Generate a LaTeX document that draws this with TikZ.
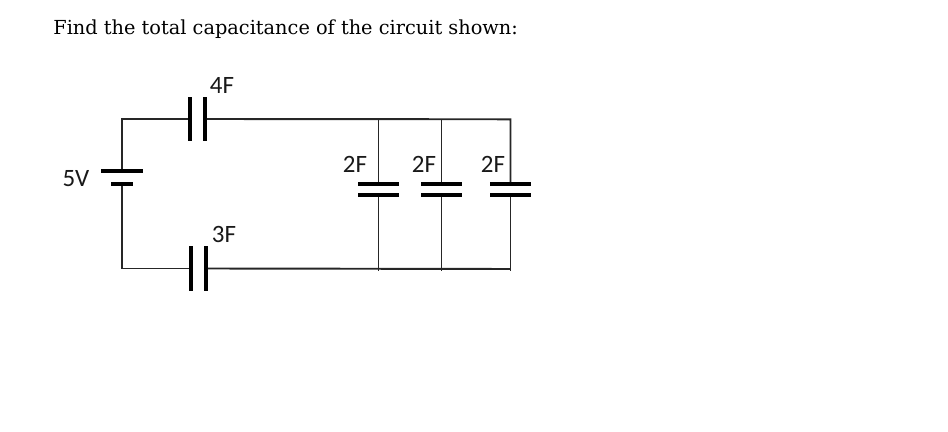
\documentclass[tikz,border=0pt]{standalone}
\usepackage{fontspec}
\usetikzlibrary{positioning}
\newfontfamily\titlefont{DejaVu Serif}
\newfontfamily\labelfont{Carlito}
\tikzset{
    wire/.style={line width=1.1pt, color=black!85},
    hplate/.style={rectangle, fill=black, inner sep=0pt, outer sep=0pt, minimum width=0.84cm, minimum height=0.07cm},
    vplate/.style={rectangle, fill=black, inner sep=0pt, outer sep=0pt, minimum width=0.07cm, minimum height=0.9cm},
    shortplate/.style={hplate, minimum width=0.44cm},
    val/.style={font=\labelfont\fontsize{14.2}{17}\selectfont, inner sep=0pt, color=black!90}
}

\begin{document}
\begin{tikzpicture}[x=0.02cm, y=-0.02cm]
    \useasboundingbox (0,0) rectangle (948,432);

    \node[anchor=west, inner sep=0pt, font=\titlefont\fontsize{11}{13}\selectfont] (title) at (53,29.5) {Find the total capacitance of the circuit shown:};

    \node[hplate] (batp) at (122,171) {};
    \node[shortplate] (batn) at (122,184) {};
    \node[val] (batval) at (76,179) {5V};

    \node[vplate] (cfourl) at (190,119) {};
    \node[vplate] (cfourr) at (205,119) {};
    \node[val] (cfourval) at (222,85) {4F};

    \node[vplate] (cthreel) at (191,268.5) {};
    \node[vplate] (cthreer) at (206,268.5) {};
    \node[val] (cthreeval) at (224,234) {3F};

    \node[hplate] (atop) at (378.5,184) {};
    \node[hplate] (abot) at (378.5,195) {};
    \node[val] (aval) at (355,164) {2F};

    \node[hplate] (btop) at (441.5,184) {};
    \node[hplate] (bbot) at (441.5,195) {};
    \node[val] (bval) at (424,164) {2F};

    \node[hplate] (ctop) at (510.5,184) {};
    \node[hplate] (cbot) at (510.5,195) {};
    \node[val] (cval) at (493,164) {2F};

    \coordinate (atopw) at (378.5,119.3);
    \coordinate (btopw) at (441.5,119.3);
    \coordinate (ctopw) at (510.5,119.3);
    \coordinate (abotw) at (378.5,271.5);
    \coordinate (bbotw) at (441.5,271.5);
    \coordinate (cbotw) at (510.5,271.5);
    \coordinate (cbotr) at (510.5,269);

    \draw[wire] (batp.north) |- (cfourl.west);
    \draw[wire] (batn.south) |- (cthreel.west);
    \draw[wire] (cfourr.east) -- (ctopw) -- (ctop.north);
    \draw[wire] (cthreer.east) -- (cbotr);
    \draw[wire] (atopw) -- (atop.north);
    \draw[wire] (btopw) -- (btop.north);
    \draw[wire] (abot.south) -- (abotw);
    \draw[wire] (bbot.south) -- (bbotw);
    \draw[wire] (cbot.south) -- (cbotw);
\end{tikzpicture}
\end{document}
